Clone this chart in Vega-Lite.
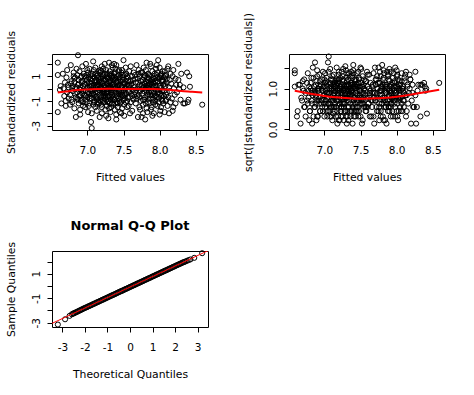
{
"$schema":"https://vega.github.io/schema/vega-lite/v6.json",
"background":"white",
"padding":{"left":4,"top":12,"right":5,"bottom":5},
"bounds":"flush",
"columns":2,
"spacing":{"row":121,"column":81},
"config":{
 "font":"DejaVu Sans",
 "view":{"stroke":"black","strokeWidth":1},
 "axis":{"grid":false,"domain":false,"ticks":true,"tickSize":5,"tickCount":20,"tickColor":"black","tickWidth":1,"labelColor":"black","titleColor":"black","labelFont":"DejaVu Sans","titleFont":"DejaVu Sans","labelFontSize":10.5,"titleFontSize":10.8,"titleFontWeight":"normal","labelFlush":false,"labelOverlap":false,"labelBound":false,"labelPadding":10,"titlePadding":16},
 "axisY":{"labelAngle":-90,"labelAlign":"center","labelBaseline":"bottom","labelPadding":6,"titlePadding":15}
},
"datasets":{
"res":[
{"f":6.59,"r":2.1,"s":1.449},{"f":6.59,"r":1.1,"s":1.049},{"f":6.59,"r":-1.9,"s":1.378},{"f":6.63,"r":0.2,"s":0.447},{"f":6.64,"r":-1.2,"s":1.095},{"f":6.62,"r":-0.1,"s":0.316},
{"f":6.66,"r":1.2,"s":1.095},{"f":6.67,"r":0.02,"s":0.141},{"f":6.68,"r":-0.6,"s":0.775},{"f":6.69,"r":0.5,"s":0.707},{"f":6.70,"r":-1.0,"s":1.0},{"f":6.71,"r":0.9,"s":0.949},{"f":6.72,"r":-0.3,"s":0.548},{"f":6.70,"r":-1.4,"s":1.183},{"f":6.73,"r":0.3,"s":0.548},{"f":6.74,"r":-0.8,"s":0.894},{"f":6.72,"r":1.5,"s":1.225},{"f":6.74,"r":0.1,"s":0.316},
{"f":6.77,"r":1.9,"s":1.378},{"f":6.76,"r":-0.5,"s":0.707},{"f":6.78,"r":0.6,"s":0.775},{"f":6.79,"r":-1.1,"s":1.049},{"f":6.80,"r":0.2,"s":0.447},{"f":6.80,"r":-0.2,"s":0.447},{"f":6.81,"r":1.3,"s":1.14},{"f":6.82,"r":-1.6,"s":1.265},{"f":6.82,"r":0.8,"s":0.894},{"f":6.83,"r":0.02,"s":0.141},{"f":6.84,"r":-2.3,"s":1.517},{"f":6.84,"r":-0.7,"s":0.837},{"f":6.77,"r":0.4,"s":0.632},{"f":6.78,"r":-0.9,"s":0.949},{"f":6.81,"r":1.0,"s":1.0},{"f":6.83,"r":-0.4,"s":0.632},{"f":6.79,"r":0.05,"s":0.224},{"f":6.85,"r":1.6,"s":1.265},{"f":6.76,"r":-1.3,"s":1.14},{"f":6.82,"r":0.5,"s":0.707},
{"f":6.87,"r":2.7,"s":1.643},{"f":6.90,"r":-2.1,"s":1.449},{"f":6.86,"r":1.1,"s":1.049},{"f":6.86,"r":-0.3,"s":0.548},{"f":6.87,"r":0.3,"s":0.548},{"f":6.88,"r":-1.2,"s":1.095},{"f":6.88,"r":0.7,"s":0.837},{"f":6.89,"r":-0.6,"s":0.775},{"f":6.89,"r":1.4,"s":1.183},{"f":6.90,"r":0.1,"s":0.316},{"f":6.90,"r":-1.7,"s":1.304},{"f":6.91,"r":0.9,"s":0.949},{"f":6.91,"r":-0.1,"s":0.316},{"f":6.92,"r":-0.9,"s":0.949},{"f":6.92,"r":0.5,"s":0.707},{"f":6.93,"r":1.8,"s":1.342},{"f":6.93,"r":-0.4,"s":0.632},{"f":6.94,"r":0.2,"s":0.447},{"f":6.94,"r":-1.4,"s":1.183},{"f":6.95,"r":1.2,"s":1.095},{"f":6.86,"r":-0.8,"s":0.894},{"f":6.88,"r":0.4,"s":0.632},{"f":6.91,"r":-1.0,"s":1.0},{"f":6.93,"r":0.6,"s":0.775},{"f":6.94,"r":-0.2,"s":0.447},{"f":6.89,"r":-0.05,"s":0.224},
{"f":6.96,"r":-0.5,"s":0.707},{"f":6.96,"r":1.0,"s":1.0},{"f":6.97,"r":0.3,"s":0.548},{"f":6.97,"r":-1.5,"s":1.225},{"f":6.98,"r":2.0,"s":1.414},{"f":6.98,"r":-0.2,"s":0.447},{"f":6.99,"r":0.7,"s":0.837},{"f":6.99,"r":-1.1,"s":1.049},{"f":7.00,"r":0.1,"s":0.316},{"f":7.00,"r":-0.7,"s":0.837},{"f":7.01,"r":1.3,"s":1.14},{"f":7.01,"r":-1.9,"s":1.378},{"f":7.02,"r":0.5,"s":0.707},{"f":7.02,"r":-0.4,"s":0.632},{"f":7.03,"r":1.6,"s":1.265},{"f":7.03,"r":-1.2,"s":1.095},{"f":7.04,"r":0.8,"s":0.894},{"f":7.04,"r":-0.1,"s":0.316},{"f":7.05,"r":-2.7,"s":1.643},{"f":7.05,"r":0.4,"s":0.632},{"f":6.97,"r":-0.9,"s":0.949},{"f":6.99,"r":1.1,"s":1.049},{"f":7.01,"r":-0.3,"s":0.548},{"f":7.03,"r":0.2,"s":0.447},{"f":7.04,"r":-0.6,"s":0.775},{"f":6.98,"r":0.9,"s":0.949},{"f":7.02,"r":-1.4,"s":1.183},{"f":7.00,"r":1.5,"s":1.225},
{"f":7.06,"r":-3.2,"s":1.789},{"f":7.06,"r":0.6,"s":0.775},{"f":7.06,"r":-0.8,"s":0.894},{"f":7.07,"r":1.2,"s":1.095},{"f":7.07,"r":-0.2,"s":0.447},{"f":7.08,"r":2.2,"s":1.483},{"f":7.08,"r":-1.3,"s":1.14},{"f":7.09,"r":0.3,"s":0.548},{"f":7.09,"r":-0.5,"s":0.707},{"f":7.10,"r":0.9,"s":0.949},{"f":7.10,"r":-1.0,"s":1.0},{"f":7.11,"r":1.7,"s":1.304},{"f":7.11,"r":0.05,"s":0.224},{"f":7.12,"r":-0.7,"s":0.837},{"f":7.12,"r":0.5,"s":0.707},{"f":7.13,"r":-1.8,"s":1.342},{"f":7.13,"r":1.0,"s":1.0},{"f":7.14,"r":-0.3,"s":0.548},{"f":7.14,"r":0.2,"s":0.447},{"f":7.15,"r":1.4,"s":1.183},{"f":7.15,"r":-1.1,"s":1.049},{"f":7.07,"r":0.8,"s":0.894},{"f":7.08,"r":-0.4,"s":0.632},{"f":7.09,"r":1.5,"s":1.225},{"f":7.10,"r":-0.1,"s":0.316},{"f":7.11,"r":-1.5,"s":1.225},{"f":7.12,"r":0.7,"s":0.837},{"f":7.13,"r":-0.6,"s":0.775},{"f":7.14,"r":1.1,"s":1.049},{"f":7.15,"r":0.4,"s":0.632},{"f":7.06,"r":-2.0,"s":1.414},{"f":7.13,"r":-0.9,"s":0.949},
{"f":7.16,"r":0.6,"s":0.775},{"f":7.16,"r":-1.2,"s":1.095},{"f":7.17,"r":-2.3,"s":1.517},{"f":7.17,"r":1.3,"s":1.14},{"f":7.18,"r":-0.2,"s":0.447},{"f":7.18,"r":0.9,"s":0.949},{"f":7.19,"r":-0.7,"s":0.837},{"f":7.19,"r":0.1,"s":0.316},{"f":7.20,"r":1.8,"s":1.342},{"f":7.20,"r":-1.5,"s":1.225},{"f":7.21,"r":0.4,"s":0.632},{"f":7.21,"r":-0.4,"s":0.632},{"f":7.22,"r":1.1,"s":1.049},{"f":7.22,"r":-1.0,"s":1.0},{"f":7.23,"r":0.2,"s":0.447},{"f":7.23,"r":-0.1,"s":0.316},{"f":7.24,"r":2.0,"s":1.414},{"f":7.24,"r":-0.8,"s":0.894},{"f":7.25,"r":0.7,"s":0.837},{"f":7.25,"r":-1.7,"s":1.304},{"f":7.16,"r":0.3,"s":0.548},{"f":7.17,"r":-0.5,"s":0.707},{"f":7.18,"r":1.5,"s":1.225},{"f":7.19,"r":-1.3,"s":1.14},{"f":7.20,"r":0.5,"s":0.707},{"f":7.21,"r":-0.9,"s":0.949},{"f":7.22,"r":0.8,"s":0.894},{"f":7.23,"r":-0.3,"s":0.548},{"f":7.24,"r":1.2,"s":1.095},{"f":7.25,"r":-0.6,"s":0.775},{"f":7.18,"r":0.02,"s":0.141},{"f":7.20,"r":-2.0,"s":1.414},{"f":7.22,"r":1.6,"s":1.265},{"f":7.23,"r":-1.1,"s":1.049},{"f":7.24,"r":0.3,"s":0.548},{"f":7.21,"r":-0.05,"s":0.224},
{"f":7.26,"r":1.0,"s":1.0},{"f":7.26,"r":-0.4,"s":0.632},{"f":7.27,"r":0.4,"s":0.632},{"f":7.27,"r":-1.4,"s":1.183},{"f":7.28,"r":-0.2,"s":0.447},{"f":7.29,"r":0.8,"s":0.894},{"f":7.29,"r":-1.0,"s":1.0},{"f":7.30,"r":2.1,"s":1.449},{"f":7.30,"r":0.1,"s":0.316},{"f":7.31,"r":-0.6,"s":0.775},{"f":7.31,"r":1.4,"s":1.183},{"f":7.32,"r":-1.9,"s":1.378},{"f":7.32,"r":0.6,"s":0.775},{"f":7.33,"r":-0.3,"s":0.548},{"f":7.33,"r":1.2,"s":1.095},{"f":7.34,"r":-1.2,"s":1.095},{"f":7.34,"r":0.3,"s":0.548},{"f":7.35,"r":-0.8,"s":0.894},{"f":7.35,"r":1.7,"s":1.304},{"f":7.26,"r":-2.2,"s":1.483},{"f":7.27,"r":0.9,"s":0.949},{"f":7.28,"r":-0.7,"s":0.837},{"f":7.29,"r":0.2,"s":0.447},{"f":7.30,"r":-1.6,"s":1.265},{"f":7.31,"r":0.5,"s":0.707},{"f":7.32,"r":-0.1,"s":0.316},{"f":7.33,"r":1.0,"s":1.0},{"f":7.34,"r":-0.5,"s":0.707},{"f":7.35,"r":0.7,"s":0.837},{"f":7.26,"r":1.5,"s":1.225},{"f":7.28,"r":-1.1,"s":1.049},{"f":7.30,"r":0.9,"s":0.949},{"f":7.32,"r":-0.9,"s":0.949},{"f":7.34,"r":1.9,"s":1.378},{"f":7.29,"r":-2.4,"s":1.549},{"f":7.33,"r":0.05,"s":0.224},{"f":7.27,"r":-0.05,"s":0.224},{"f":7.31,"r":1.1,"s":1.049},
{"f":7.36,"r":0.4,"s":0.632},{"f":7.36,"r":-1.3,"s":1.14},{"f":7.37,"r":1.2,"s":1.095},{"f":7.37,"r":-0.2,"s":0.447},{"f":7.38,"r":0.7,"s":0.837},{"f":7.38,"r":-0.9,"s":0.949},{"f":7.39,"r":1.6,"s":1.265},{"f":7.39,"r":0.02,"s":0.141},{"f":7.40,"r":-2.1,"s":1.449},{"f":7.40,"r":0.5,"s":0.707},{"f":7.41,"r":-0.6,"s":0.775},{"f":7.41,"r":1.0,"s":1.0},{"f":7.42,"r":-1.5,"s":1.225},{"f":7.42,"r":0.2,"s":0.447},{"f":7.43,"r":-0.4,"s":0.632},{"f":7.43,"r":1.4,"s":1.183},{"f":7.44,"r":-1.0,"s":1.0},{"f":7.44,"r":0.8,"s":0.894},{"f":7.45,"r":-1.9,"s":1.378},{"f":7.45,"r":0.3,"s":0.548},{"f":7.36,"r":-0.7,"s":0.837},{"f":7.37,"r":0.9,"s":0.949},{"f":7.38,"r":-1.7,"s":1.304},{"f":7.39,"r":-0.3,"s":0.548},{"f":7.40,"r":1.9,"s":1.378},{"f":7.41,"r":-1.1,"s":1.049},{"f":7.42,"r":0.6,"s":0.775},{"f":7.43,"r":-0.1,"s":0.316},{"f":7.44,"r":1.1,"s":1.049},{"f":7.45,"r":-0.5,"s":0.707},{"f":7.37,"r":2.0,"s":1.414},{"f":7.39,"r":-1.2,"s":1.095},{"f":7.41,"r":0.1,"s":0.316},{"f":7.43,"r":-0.8,"s":0.894},{"f":7.44,"r":1.5,"s":1.225},{"f":7.40,"r":-2.5,"s":1.581},
{"f":7.46,"r":0.6,"s":0.775},{"f":7.46,"r":-1.1,"s":1.049},{"f":7.47,"r":1.3,"s":1.14},{"f":7.47,"r":-0.3,"s":0.548},{"f":7.48,"r":0.2,"s":0.447},{"f":7.48,"r":-1.6,"s":1.265},{"f":7.49,"r":0.9,"s":0.949},{"f":7.49,"r":-0.6,"s":0.775},{"f":7.50,"r":2.3,"s":1.517},{"f":7.50,"r":-0.1,"s":0.316},{"f":7.51,"r":0.5,"s":0.707},{"f":7.51,"r":-1.3,"s":1.14},{"f":7.52,"r":1.1,"s":1.049},{"f":7.52,"r":-0.8,"s":0.894},{"f":7.53,"r":0.05,"s":0.224},{"f":7.53,"r":1.7,"s":1.304},{"f":7.54,"r":-0.4,"s":0.632},{"f":7.54,"r":0.8,"s":0.894},{"f":7.55,"r":-1.0,"s":1.0},{"f":7.55,"r":0.3,"s":0.548},{"f":7.47,"r":-2.0,"s":1.414},{"f":7.48,"r":1.5,"s":1.225},{"f":7.50,"r":-0.9,"s":0.949},{"f":7.51,"r":-2.2,"s":1.483},{"f":7.52,"r":0.4,"s":0.632},{"f":7.53,"r":-0.5,"s":0.707},{"f":7.54,"r":1.2,"s":1.095},{"f":7.46,"r":-0.2,"s":0.447},{"f":7.49,"r":0.7,"s":0.837},{"f":7.55,"r":-1.5,"s":1.225},
{"f":7.56,"r":0.9,"s":0.949},{"f":7.56,"r":-0.7,"s":0.837},{"f":7.57,"r":0.2,"s":0.447},{"f":7.57,"r":-1.4,"s":1.183},{"f":7.58,"r":1.4,"s":1.183},{"f":7.58,"r":-0.2,"s":0.447},{"f":7.59,"r":0.6,"s":0.775},{"f":7.60,"r":-1.1,"s":1.049},{"f":7.60,"r":1.8,"s":1.342},{"f":7.61,"r":-0.4,"s":0.632},{"f":7.61,"r":0.4,"s":0.632},{"f":7.62,"r":-1.8,"s":1.342},{"f":7.62,"r":1.0,"s":1.0},{"f":7.63,"r":-0.1,"s":0.316},{"f":7.63,"r":0.7,"s":0.837},{"f":7.64,"r":-0.9,"s":0.949},{"f":7.64,"r":1.3,"s":1.14},{"f":7.65,"r":0.1,"s":0.316},{"f":7.65,"r":-0.5,"s":0.707},{"f":7.59,"r":-2.0,"s":1.414},{"f":7.58,"r":0.3,"s":0.548},{"f":7.62,"r":-0.6,"s":0.775},
{"f":7.66,"r":1.1,"s":1.049},{"f":7.66,"r":-0.3,"s":0.548},{"f":7.67,"r":0.5,"s":0.707},{"f":7.67,"r":-1.2,"s":1.095},{"f":7.68,"r":1.9,"s":1.378},{"f":7.68,"r":-0.8,"s":0.894},{"f":7.69,"r":0.02,"s":0.141},{"f":7.70,"r":-2.3,"s":1.517},{"f":7.70,"r":0.8,"s":0.894},{"f":7.71,"r":-0.5,"s":0.707},{"f":7.71,"r":1.5,"s":1.225},{"f":7.72,"r":-1.5,"s":1.225},{"f":7.72,"r":0.3,"s":0.548},{"f":7.73,"r":-0.2,"s":0.447},{"f":7.73,"r":1.0,"s":1.0},{"f":7.74,"r":-1.0,"s":1.0},{"f":7.74,"r":0.6,"s":0.775},{"f":7.75,"r":-2.3,"s":1.517},{"f":7.75,"r":0.2,"s":0.447},{"f":7.69,"r":-0.6,"s":0.775},{"f":7.71,"r":1.2,"s":1.095},{"f":7.73,"r":-1.7,"s":1.304},
{"f":7.76,"r":1.3,"s":1.14},{"f":7.76,"r":-0.4,"s":0.632},{"f":7.77,"r":0.7,"s":0.837},{"f":7.77,"r":-1.3,"s":1.14},{"f":7.78,"r":0.1,"s":0.316},{"f":7.78,"r":1.7,"s":1.304},{"f":7.79,"r":-0.9,"s":0.949},{"f":7.79,"r":0.4,"s":0.632},{"f":7.80,"r":-2.5,"s":1.581},{"f":7.80,"r":1.0,"s":1.0},{"f":7.81,"r":-0.1,"s":0.316},{"f":7.81,"r":0.6,"s":0.775},{"f":7.82,"r":-1.6,"s":1.265},{"f":7.82,"r":2.1,"s":1.449},{"f":7.83,"r":-0.6,"s":0.775},{"f":7.83,"r":0.3,"s":0.548},{"f":7.84,"r":1.2,"s":1.095},{"f":7.84,"r":-1.1,"s":1.049},{"f":7.85,"r":0.8,"s":0.894},{"f":7.85,"r":-0.3,"s":0.548},{"f":7.77,"r":-2.0,"s":1.414},{"f":7.78,"r":0.9,"s":0.949},{"f":7.80,"r":-0.7,"s":0.837},{"f":7.81,"r":1.5,"s":1.225},{"f":7.83,"r":-1.9,"s":1.378},{"f":7.84,"r":0.05,"s":0.224},{"f":7.76,"r":-0.05,"s":0.224},{"f":7.82,"r":0.5,"s":0.707},
{"f":7.86,"r":1.1,"s":1.049},{"f":7.86,"r":-1.2,"s":1.095},{"f":7.87,"r":0.4,"s":0.632},{"f":7.87,"r":-0.5,"s":0.707},{"f":7.88,"r":1.8,"s":1.342},{"f":7.88,"r":-0.2,"s":0.447},{"f":7.89,"r":0.7,"s":0.837},{"f":7.89,"r":-1.5,"s":1.225},{"f":7.90,"r":0.2,"s":0.447},{"f":7.90,"r":1.4,"s":1.183},{"f":7.91,"r":-0.8,"s":0.894},{"f":7.91,"r":0.9,"s":0.949},{"f":7.92,"r":-2.0,"s":1.414},{"f":7.92,"r":0.1,"s":0.316},{"f":7.93,"r":-0.4,"s":0.632},{"f":7.93,"r":1.2,"s":1.095},{"f":7.94,"r":-1.0,"s":1.0},{"f":7.94,"r":0.6,"s":0.775},{"f":7.95,"r":1.6,"s":1.265},{"f":7.95,"r":-0.6,"s":0.775},{"f":7.87,"r":2.0,"s":1.414},{"f":7.88,"r":-1.7,"s":1.304},{"f":7.89,"r":0.3,"s":0.548},{"f":7.90,"r":-0.9,"s":0.949},{"f":7.91,"r":0.5,"s":0.707},{"f":7.92,"r":-0.3,"s":0.548},{"f":7.93,"r":0.8,"s":0.894},{"f":7.94,"r":-1.3,"s":1.14},{"f":7.86,"r":0.02,"s":0.141},{"f":7.90,"r":-2.2,"s":1.483},
{"f":7.96,"r":0.5,"s":0.707},{"f":7.96,"r":-0.7,"s":0.837},{"f":7.97,"r":1.3,"s":1.14},{"f":7.97,"r":-1.4,"s":1.183},{"f":7.98,"r":2.3,"s":1.517},{"f":7.98,"r":-0.1,"s":0.316},{"f":7.99,"r":0.8,"s":0.894},{"f":7.99,"r":-1.1,"s":1.049},{"f":8.00,"r":0.2,"s":0.447},{"f":8.00,"r":1.7,"s":1.304},{"f":8.01,"r":-0.4,"s":0.632},{"f":8.01,"r":-1.8,"s":1.342},{"f":8.02,"r":1.0,"s":1.0},{"f":8.02,"r":0.05,"s":0.224},{"f":8.03,"r":-0.9,"s":0.949},{"f":8.03,"r":0.6,"s":0.775},{"f":8.04,"r":1.4,"s":1.183},{"f":8.04,"r":-0.5,"s":0.707},{"f":8.05,"r":-1.2,"s":1.095},{"f":8.05,"r":0.3,"s":0.548},{"f":7.97,"r":0.9,"s":0.949},{"f":7.98,"r":-0.3,"s":0.548},{"f":8.00,"r":-2.1,"s":1.449},{"f":8.01,"r":1.1,"s":1.049},{"f":8.03,"r":-0.2,"s":0.447},{"f":8.04,"r":0.7,"s":0.837},{"f":7.96,"r":1.9,"s":1.378},{"f":8.02,"r":-1.5,"s":1.225},
{"f":8.06,"r":0.9,"s":0.949},{"f":8.06,"r":-0.6,"s":0.775},{"f":8.07,"r":1.4,"s":1.183},{"f":8.07,"r":-1.9,"s":1.378},{"f":8.08,"r":0.2,"s":0.447},{"f":8.08,"r":-1.0,"s":1.0},{"f":8.09,"r":1.1,"s":1.049},{"f":8.10,"r":-0.3,"s":0.548},{"f":8.10,"r":0.5,"s":0.707},{"f":8.11,"r":-1.4,"s":1.183},{"f":8.11,"r":1.6,"s":1.265},{"f":8.12,"r":1.8,"s":1.342},{"f":8.12,"r":-0.7,"s":0.837},{"f":8.13,"r":0.1,"s":0.316},{"f":8.13,"r":-2.0,"s":1.414},{"f":8.14,"r":0.7,"s":0.837},{"f":8.14,"r":-0.2,"s":0.447},{"f":8.15,"r":1.2,"s":1.095},{"f":8.09,"r":-0.9,"s":0.949},{"f":8.15,"r":-1.1,"s":1.049},
{"f":8.16,"r":0.4,"s":0.632},{"f":8.17,"r":-0.8,"s":0.894},{"f":8.18,"r":1.0,"s":1.0},{"f":8.19,"r":1.5,"s":1.225},{"f":8.19,"r":-1.5,"s":1.225},{"f":8.20,"r":0.02,"s":0.141},{"f":8.21,"r":-0.5,"s":0.707},{"f":8.22,"r":0.8,"s":0.894},{"f":8.22,"r":-1.2,"s":1.095},{"f":8.23,"r":0.3,"s":0.548},{"f":8.24,"r":-0.3,"s":0.548},{"f":8.18,"r":-1.8,"s":1.342},
{"f":8.26,"r":2.0,"s":1.414},{"f":8.26,"r":0.7,"s":0.837},{"f":8.28,"r":0.3,"s":0.548},{"f":8.30,"r":1.2,"s":1.095},{"f":8.33,"r":0.1,"s":0.316},{"f":8.33,"r":-1.2,"s":1.095},{"f":8.27,"r":-0.02,"s":0.141},{"f":8.29,"r":-0.9,"s":0.949},
{"f":8.35,"r":-1.2,"s":1.095},{"f":8.38,"r":1.3,"s":1.14},{"f":8.40,"r":-0.9,"s":0.949},{"f":8.41,"r":1.0,"s":1.0},{"f":8.42,"r":0.15,"s":0.387},{"f":8.39,"r":-1.1,"s":1.049},
{"f":8.59,"r":-1.3,"s":1.14},
{"f":7.02,"r":0.9,"s":0.949},{"f":7.03,"r":-0.8,"s":0.894},{"f":7.05,"r":0.2,"s":0.447},{"f":7.06,"r":-0.4,"s":0.632},{"f":7.07,"r":1.0,"s":1.0},{"f":7.08,"r":0.1,"s":0.316},{"f":7.09,"r":-1.1,"s":1.049},{"f":7.10,"r":0.6,"s":0.775},{"f":7.11,"r":-0.3,"s":0.548},{"f":7.12,"r":1.2,"s":1.095},{"f":7.13,"r":0.3,"s":0.548},{"f":7.14,"r":-0.8,"s":0.894},{"f":7.15,"r":0.9,"s":0.949},{"f":7.16,"r":-0.1,"s":0.316},{"f":7.17,"r":0.5,"s":0.707},{"f":7.18,"r":-1.0,"s":1.0},{"f":7.19,"r":0.8,"s":0.894},{"f":7.20,"r":0.05,"s":0.224},{"f":7.21,"r":1.0,"s":1.0},{"f":7.22,"r":-0.6,"s":0.775},{"f":7.23,"r":0.6,"s":0.775},{"f":7.24,"r":-0.4,"s":0.632},{"f":7.25,"r":0.1,"s":0.316},{"f":7.26,"r":-0.9,"s":0.949},{"f":7.27,"r":1.2,"s":1.095},{"f":7.28,"r":0.4,"s":0.632},{"f":7.29,"r":-0.6,"s":0.775},{"f":7.30,"r":0.6,"s":0.775},{"f":7.31,"r":-1.2,"s":1.095},{"f":7.32,"r":0.2,"s":0.447},{"f":7.33,"r":-0.7,"s":0.837},{"f":7.34,"r":0.9,"s":0.949},{"f":7.35,"r":-0.2,"s":0.447},{"f":7.36,"r":1.0,"s":1.0},{"f":7.37,"r":-0.9,"s":0.949},{"f":7.38,"r":0.2,"s":0.447},{"f":7.39,"r":0.8,"s":0.894},{"f":7.40,"r":-0.4,"s":0.632},{"f":7.41,"r":0.5,"s":0.707},{"f":7.42,"r":-1.2,"s":1.095},{"f":7.43,"r":0.3,"s":0.548},{"f":7.44,"r":-0.2,"s":0.447},{"f":7.45,"r":0.9,"s":0.949},{"f":7.46,"r":-0.7,"s":0.837},{"f":7.47,"r":0.1,"s":0.316},{"f":7.48,"r":-0.5,"s":0.707},{"f":7.49,"r":1.1,"s":1.049},{"f":7.50,"r":0.4,"s":0.632},{"f":7.51,"r":-0.6,"s":0.775},{"f":7.52,"r":0.02,"s":0.141},{"f":7.53,"r":-1.1,"s":1.049},{"f":7.54,"r":0.6,"s":0.775},{"f":7.55,"r":1.0,"s":1.0},{"f":7.57,"r":-0.3,"s":0.548},{"f":7.60,"r":0.3,"s":0.548},{"f":7.63,"r":-0.8,"s":0.894},{"f":7.66,"r":0.8,"s":0.894},{"f":7.68,"r":-0.1,"s":0.316},{"f":7.70,"r":0.5,"s":0.707},{"f":7.72,"r":-0.7,"s":0.837},{"f":7.74,"r":1.3,"s":1.14},{"f":7.76,"r":0.3,"s":0.548},{"f":7.77,"r":-0.9,"s":0.949},{"f":7.78,"r":-0.2,"s":0.447},{"f":7.79,"r":1.1,"s":1.049},{"f":7.80,"r":0.4,"s":0.632},{"f":7.81,"r":-1.2,"s":1.095},{"f":7.82,"r":0.05,"s":0.224},{"f":7.83,"r":0.9,"s":0.949},{"f":7.84,"r":-0.5,"s":0.707},{"f":7.85,"r":0.3,"s":0.548},{"f":7.86,"r":-0.8,"s":0.894},{"f":7.87,"r":1.0,"s":1.0},{"f":7.88,"r":0.5,"s":0.707},{"f":7.89,"r":-0.3,"s":0.548},{"f":7.90,"r":0.7,"s":0.837},{"f":7.91,"r":-1.1,"s":1.049},{"f":7.92,"r":0.4,"s":0.632},{"f":7.93,"r":-0.6,"s":0.775},{"f":7.94,"r":0.2,"s":0.447},{"f":7.95,"r":-0.1,"s":0.316},{"f":7.96,"r":1.1,"s":1.049},{"f":7.97,"r":-0.4,"s":0.632},{"f":7.98,"r":0.6,"s":0.775},{"f":7.99,"r":-0.8,"s":0.894},{"f":8.00,"r":0.9,"s":0.949},{"f":8.01,"r":0.1,"s":0.316},{"f":8.02,"r":-0.6,"s":0.775},{"f":8.03,"r":1.2,"s":1.095},{"f":8.04,"r":-1.0,"s":1.0},{"f":8.05,"r":0.6,"s":0.775},{"f":8.06,"r":-0.2,"s":0.447},{"f":8.07,"r":0.4,"s":0.632},{"f":8.08,"r":1.0,"s":1.0},{"f":8.09,"r":-0.5,"s":0.707},{"f":8.10,"r":0.8,"s":0.894},{"f":6.90,"r":-0.5,"s":0.707},{"f":6.92,"r":1.0,"s":1.0},{"f":6.94,"r":-1.1,"s":1.049},{"f":6.96,"r":0.4,"s":0.632},{"f":6.98,"r":-0.6,"s":0.775},{"f":7.00,"r":0.4,"s":0.632},{"f":6.85,"r":0.1,"s":0.316},{"f":6.87,"r":-0.9,"s":0.949},{"f":6.83,"r":0.9,"s":0.949},{"f":7.04,"r":1.1,"s":1.049},{"f":7.14,"r":-1.3,"s":1.14},{"f":7.27,"r":-0.3,"s":0.548},{"f":7.19,"r":1.4,"s":1.183},{"f":7.33,"r":-1.5,"s":1.225},{"f":7.38,"r":1.3,"s":1.14},{"f":7.45,"r":-1.2,"s":1.095},{"f":7.36,"r":0.1,"s":0.316},{"f":7.31,"r":-0.02,"s":0.141},{"f":7.22,"r":-0.2,"s":0.447},{"f":7.12,"r":0.15,"s":0.387}
],
"lo1":[{"f":6.59,"r":-0.32},{"f":6.7,"r":-0.24},{"f":6.8,"r":-0.16},{"f":6.9,"r":-0.1},{"f":7.0,"r":-0.07},{"f":7.15,"r":-0.03},{"f":7.3,"r":-0.02},{"f":7.5,"r":-0.03},{"f":7.7,"r":-0.03},{"f":7.9,"r":-0.04},{"f":8.0,"r":-0.05},{"f":8.1,"r":-0.08},{"f":8.2,"r":-0.14},{"f":8.3,"r":-0.2},{"f":8.45,"r":-0.26},{"f":8.59,"r":-0.32}],
"lo2":[{"f":6.59,"s":0.95},{"f":6.7,"s":0.91},{"f":6.85,"s":0.86},{"f":7.0,"s":0.82},{"f":7.15,"s":0.79},{"f":7.3,"s":0.77},{"f":7.5,"s":0.75},{"f":7.65,"s":0.76},{"f":7.8,"s":0.77},{"f":8.0,"s":0.8},{"f":8.15,"s":0.84},{"f":8.3,"s":0.885},{"f":8.45,"s":0.93},{"f":8.59,"s":0.97}],
"qq":[
{"x":-3.2,"y":-3.15},{"x":-2.88,"y":-2.72},{"x":-2.68,"y":-2.44},{"x":-2.58,"y":-2.31},{"x":-2.52,"y":-2.25},
{"x":-2.5,"y":-2.24},{"x":-2.45,"y":-2.2},{"x":-2.4,"y":-2.15},{"x":-2.35,"y":-2.11},{"x":-2.3,"y":-2.06},{"x":-2.25,"y":-2.01},{"x":-2.2,"y":-1.98},{"x":-2.15,"y":-1.92},{"x":-2.1,"y":-1.89},{"x":-2.05,"y":-1.83},{"x":-2.0,"y":-1.8},{"x":-1.95,"y":-1.75},{"x":-1.9,"y":-1.72},{"x":-1.85,"y":-1.66},{"x":-1.8,"y":-1.63},{"x":-1.75,"y":-1.58},{"x":-1.7,"y":-1.55},{"x":-1.65,"y":-1.49},{"x":-1.6,"y":-1.46},{"x":-1.55,"y":-1.41},{"x":-1.5,"y":-1.37},{"x":-1.45,"y":-1.32},{"x":-1.4,"y":-1.29},{"x":-1.35,"y":-1.24},{"x":-1.3,"y":-1.2},{"x":-1.25,"y":-1.15},{"x":-1.2,"y":-1.12},{"x":-1.15,"y":-1.06},{"x":-1.1,"y":-1.03},{"x":-1.05,"y":-0.98},{"x":-1.0,"y":-0.94},{"x":-0.95,"y":-0.9},{"x":-0.9,"y":-0.85},{"x":-0.85,"y":-0.81},{"x":-0.8,"y":-0.77},{"x":-0.75,"y":-0.72},{"x":-0.7,"y":-0.69},{"x":-0.65,"y":-0.64},{"x":-0.6,"y":-0.6},{"x":-0.55,"y":-0.55},{"x":-0.5,"y":-0.51},{"x":-0.45,"y":-0.47},{"x":-0.4,"y":-0.42},{"x":-0.35,"y":-0.39},{"x":-0.3,"y":-0.34},{"x":-0.25,"y":-0.3},{"x":-0.2,"y":-0.25},{"x":-0.15,"y":-0.22},{"x":-0.1,"y":-0.17},{"x":-0.05,"y":-0.13},{"x":0.0,"y":-0.08},{"x":0.05,"y":-0.04},{"x":0.1,"y":0.0},{"x":0.15,"y":0.05},{"x":0.2,"y":0.08},{"x":0.25,"y":0.13},{"x":0.3,"y":0.18},{"x":0.35,"y":0.21},{"x":0.4,"y":0.26},{"x":0.45,"y":0.3},{"x":0.5,"y":0.35},{"x":0.55,"y":0.38},{"x":0.6,"y":0.43},{"x":0.65,"y":0.48},{"x":0.7,"y":0.51},{"x":0.75,"y":0.56},{"x":0.8,"y":0.6},{"x":0.85,"y":0.65},{"x":0.9,"y":0.68},{"x":0.95,"y":0.73},{"x":1.0,"y":0.78},{"x":1.05,"y":0.81},{"x":1.1,"y":0.86},{"x":1.15,"y":0.9},{"x":1.2,"y":0.95},{"x":1.25,"y":0.98},{"x":1.3,"y":1.03},{"x":1.35,"y":1.08},{"x":1.4,"y":1.11},{"x":1.45,"y":1.16},{"x":1.5,"y":1.2},{"x":1.55,"y":1.25},{"x":1.6,"y":1.28},{"x":1.65,"y":1.33},{"x":1.7,"y":1.37},{"x":1.75,"y":1.42},{"x":1.8,"y":1.45},{"x":1.85,"y":1.5},{"x":1.9,"y":1.55},{"x":1.95,"y":1.58},{"x":2.0,"y":1.63},{"x":2.05,"y":1.68},{"x":2.1,"y":1.71},{"x":2.15,"y":1.76},{"x":2.2,"y":1.8},{"x":2.25,"y":1.84},{"x":2.3,"y":1.88},{"x":2.35,"y":1.93},{"x":2.4,"y":1.96},
{"x":2.45,"y":2.0},{"x":2.52,"y":2.05},{"x":2.6,"y":2.12},{"x":2.68,"y":2.17},{"x":2.85,"y":2.3},{"x":3.2,"y":2.68}
],
"qql":[{"x":-3.7,"y":-3.26},{"x":3.7,"y":3.09}]
},
"concat":[
{"width":156,"height":76,
 "layer":[
  {"data":{"name":"res"},"mark":{"type":"point","filled":false,"color":"black","opacity":1,"size":26,"strokeWidth":1},
   "encoding":{
    "x":{"field":"f","type":"quantitative","scale":{"domain":[6.51,8.67],"nice":false,"zero":false},"axis":{"title":"Fitted values","values":[7,7.5,8,8.5],"format":".1f","labelOverlap":false,"tickCount":20}},
    "y":{"field":"r","type":"quantitative","scale":{"domain":[-3.35,2.8],"nice":false,"zero":false},"axis":{"title":"Standardized residuals","values":[-3,-2,-1,0,1,2],"tickCount":20,"labelOverlap":false,"labelExpr":"datum.value % 2 == 0 ? '' : '' + datum.value"}}}},
  {"data":{"name":"lo1"},"mark":{"type":"line","color":"#ff0000","strokeWidth":2,"interpolate":"monotone"},
   "encoding":{"x":{"field":"f","type":"quantitative"},"y":{"field":"r","type":"quantitative"}}}
 ]},
{"width":156,"height":76,
 "layer":[
  {"data":{"name":"res"},"mark":{"type":"point","filled":false,"color":"black","opacity":1,"size":26,"strokeWidth":1},
   "encoding":{
    "x":{"field":"f","type":"quantitative","scale":{"domain":[6.51,8.67],"nice":false,"zero":false},"axis":{"title":"Fitted values","values":[7,7.5,8,8.5],"format":".1f","labelOverlap":false,"tickCount":20}},
    "y":{"field":"s","type":"quantitative","scale":{"domain":[-0.016,1.85],"nice":false,"zero":false},"axis":{"title":"sqrt(|standardized residuals|)","values":[0,0.5,1,1.5],"tickCount":20,"labelOverlap":false,"labelExpr":"datum.value == 0 ? '0.0' : datum.value == 1 ? '1.0' : ''"}}}},
  {"data":{"name":"lo2"},"mark":{"type":"line","color":"#ff0000","strokeWidth":2,"interpolate":"monotone"},
   "encoding":{"x":{"field":"f","type":"quantitative"},"y":{"field":"s","type":"quantitative"}}}
 ]},
{"width":156,"height":76,
 "title":{"text":"Normal Q-Q Plot","fontSize":13,"fontWeight":"bold","font":"DejaVu Sans","color":"black","anchor":"middle","frame":"group","offset":-2,"baseline":"alphabetic"},
 "layer":[
  {"data":{"name":"qq"},"mark":{"type":"point","filled":false,"color":"black","opacity":1,"size":26,"strokeWidth":1},
   "encoding":{
    "x":{"field":"x","type":"quantitative","scale":{"domain":[-3.46,3.46],"nice":false,"zero":false},"axis":{"title":"Theoretical Quantiles","values":[-3,-2,-1,0,1,2,3],"tickCount":20,"labelOverlap":false,"labelExpr":"'' + datum.value"}},
    "y":{"field":"y","type":"quantitative","scale":{"domain":[-3.35,2.86],"nice":false,"zero":false},"axis":{"title":"Sample Quantiles","values":[-3,-2,-1,0,1,2],"tickCount":20,"labelOverlap":false,"labelExpr":"datum.value % 2 == 0 ? '' : '' + datum.value"}}}},
  {"data":{"name":"qql"},"mark":{"type":"line","color":"#ff0000","strokeWidth":1,"clip":true},
   "encoding":{"x":{"field":"x","type":"quantitative"},"y":{"field":"y","type":"quantitative"}}}
 ]}
]
}
